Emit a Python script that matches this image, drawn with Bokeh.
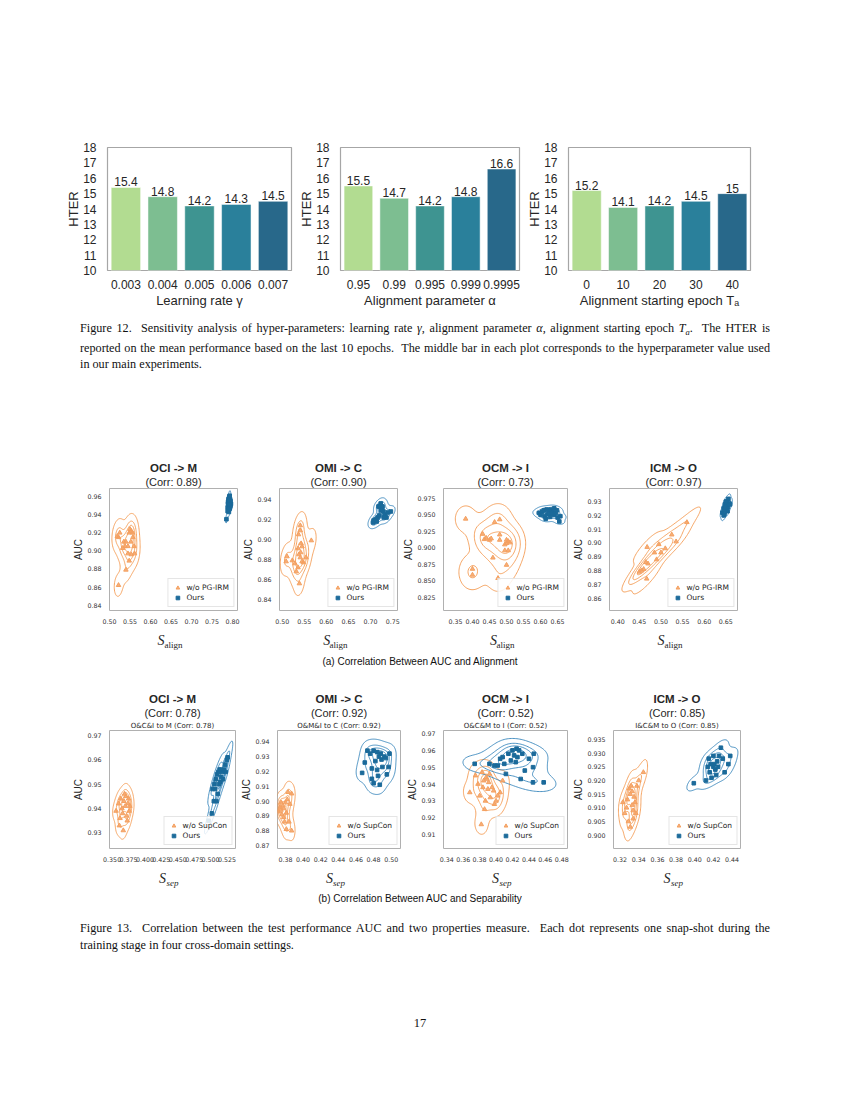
import numpy as np
from bokeh.plotting import figure
from bokeh.models import (FactorRange, Range1d, Title, Div, Spacer, LinearAxis,
                          ColumnDataSource, FixedTicker, PrintfTickFormatter, CustomJSTickFormatter)
from bokeh.layouts import row, column
from bokeh.embed import file_html
from bokeh.resources import INLINE
from bokeh.core.properties import value

SANS = "Liberation Sans"
DJ = "DejaVu Sans"
SERIF = "Liberation Serif"
TXT = "#262626"

# ---------------- Figure 12 data ----------------
hter_ticks = [10, 11, 12, 13, 14, 15, 16, 17, 18]
lr_labels = ["0.003", "0.004", "0.005", "0.006", "0.007"]
lr_hter = [15.4, 14.8, 14.2, 14.3, 14.5]
lr_text = ["15.4", "14.8", "14.2", "14.3", "14.5"]
alpha_labels = ["0.95", "0.99", "0.995", "0.999", "0.9995"]
alpha_hter = [15.5, 14.7, 14.2, 14.8, 16.6]
alpha_text = ["15.5", "14.7", "14.2", "14.8", "16.6"]
ta_labels = ["0", "10", "20", "30", "40"]
ta_hter = [15.2, 14.1, 14.2, 14.5, 15.0]
ta_text = ["15.2", "14.1", "14.2", "14.5", "15"]
bar_colors = ["#b2dc91", "#7dbe91", "#3e9491", "#2a809b", "#28688a"]

# ---------------- Figure 13 (a) data: S_align vs AUC ----------------
a1_o_x = [0.525, 0.519, 0.535, 0.538, 0.540, 0.545, 0.548, 0.550, 0.553, 0.556, 0.557, 0.552, 0.560, 0.561, 0.553, 0.545, 0.548, 0.540, 0.522, 0.522, 0.532]
a1_o_y = [0.920, 0.916, 0.910, 0.905, 0.910, 0.905, 0.920, 0.924, 0.922, 0.920, 0.915, 0.910, 0.905, 0.897, 0.896, 0.897, 0.889, 0.879, 0.915, 0.862, 0.903]
a1_b_x = [0.788, 0.789, 0.790, 0.791, 0.792, 0.793, 0.794, 0.795, 0.796, 0.790, 0.791, 0.792, 0.793, 0.794, 0.789, 0.790, 0.792, 0.795, 0.791, 0.793, 0.788, 0.794, 0.790, 0.792, 0.785]
a1_b_y = [0.948, 0.952, 0.955, 0.958, 0.960, 0.956, 0.953, 0.950, 0.952, 0.945, 0.943, 0.950, 0.947, 0.957, 0.954, 0.949, 0.953, 0.955, 0.951, 0.961, 0.944, 0.948, 0.957, 0.946, 0.935]

a2_o_x = [0.511, 0.509, 0.523, 0.529, 0.532, 0.536, 0.537, 0.541, 0.543, 0.542, 0.541, 0.545, 0.548, 0.554, 0.536, 0.539, 0.566, 0.541, 0.538, 0.545]
a2_o_y = [0.883, 0.878, 0.879, 0.876, 0.868, 0.891, 0.905, 0.914, 0.896, 0.887, 0.882, 0.878, 0.877, 0.882, 0.872, 0.856, 0.899, 0.909, 0.885, 0.893]
a2_b_x = [0.706, 0.711, 0.716, 0.720, 0.721, 0.723, 0.725, 0.729, 0.732, 0.736, 0.746, 0.714, 0.727, 0.724, 0.730, 0.718, 0.739, 0.707]
a2_b_y = [0.917, 0.920, 0.922, 0.924, 0.933, 0.936, 0.931, 0.928, 0.925, 0.922, 0.928, 0.918, 0.933, 0.929, 0.922, 0.933, 0.927, 0.919]

a3_o_x = [0.380, 0.400, 0.400, 0.430, 0.435, 0.440, 0.450, 0.455, 0.465, 0.460, 0.475, 0.480, 0.480, 0.480, 0.495, 0.500, 0.500, 0.505, 0.505, 0.510, 0.500, 0.495]
a3_o_y = [0.944, 0.868, 0.859, 0.921, 0.913, 0.915, 0.912, 0.914, 0.939, 0.885, 0.854, 0.943, 0.920, 0.912, 0.905, 0.912, 0.907, 0.896, 0.910, 0.908, 0.874, 0.896]
a3_b_x = [0.595, 0.600, 0.605, 0.610, 0.612, 0.615, 0.620, 0.625, 0.630, 0.635, 0.640, 0.640, 0.645, 0.650, 0.655, 0.658, 0.618, 0.628, 0.632, 0.648]
a3_b_y = [0.953, 0.950, 0.955, 0.957, 0.948, 0.944, 0.951, 0.953, 0.958, 0.955, 0.950, 0.960, 0.953, 0.946, 0.940, 0.948, 0.958, 0.947, 0.952, 0.957]

a4_o_x = [0.450, 0.455, 0.460, 0.465, 0.467, 0.468, 0.485, 0.490, 0.495, 0.510, 0.525, 0.535, 0.560, 0.470, 0.500]
a4_o_y = [0.879, 0.880, 0.881, 0.886, 0.874, 0.897, 0.893, 0.888, 0.899, 0.896, 0.906, 0.901, 0.915, 0.885, 0.893]
a4_b_x = [0.642, 0.645, 0.647, 0.648, 0.650, 0.652, 0.653, 0.655, 0.656, 0.658, 0.645, 0.650, 0.654, 0.660, 0.648]
a4_b_y = [0.922, 0.925, 0.921, 0.928, 0.924, 0.927, 0.930, 0.926, 0.932, 0.929, 0.920, 0.930, 0.923, 0.928, 0.926]

# ---------------- Figure 13 (b) data: S_sep vs AUC ----------------
b1_o_x = [0.356, 0.360, 0.362, 0.363, 0.365, 0.366, 0.367, 0.368, 0.370, 0.371, 0.372, 0.374, 0.375, 0.376, 0.377, 0.361, 0.369, 0.373]
b1_o_y = [0.939, 0.942, 0.936, 0.944, 0.940, 0.938, 0.931, 0.943, 0.941, 0.945, 0.937, 0.942, 0.944, 0.939, 0.941, 0.933, 0.946, 0.935]
b1_b_x = [0.497, 0.502, 0.505, 0.507, 0.503, 0.506, 0.508, 0.510, 0.512, 0.513, 0.515, 0.516, 0.518, 0.520, 0.522, 0.525, 0.526, 0.511, 0.509, 0.519, 0.514, 0.523]
b1_b_y = [0.935, 0.938, 0.943, 0.948, 0.948, 0.950, 0.952, 0.954, 0.955, 0.950, 0.951, 0.953, 0.955, 0.956, 0.958, 0.960, 0.961, 0.946, 0.943, 0.952, 0.956, 0.955]

b2_o_x = [0.372, 0.374, 0.375, 0.376, 0.377, 0.378, 0.378, 0.380, 0.381, 0.382, 0.383, 0.384, 0.385, 0.387, 0.381, 0.387, 0.375, 0.379]
b2_o_y = [0.893, 0.896, 0.894, 0.891, 0.897, 0.895, 0.889, 0.899, 0.892, 0.901, 0.906, 0.886, 0.898, 0.905, 0.881, 0.880, 0.899, 0.886]
b2_b_x = [0.467, 0.470, 0.473, 0.476, 0.478, 0.478, 0.480, 0.480, 0.482, 0.484, 0.485, 0.486, 0.488, 0.489, 0.490, 0.492, 0.494, 0.495, 0.497, 0.498, 0.487, 0.484]
b2_b_y = [0.919, 0.926, 0.934, 0.932, 0.922, 0.915, 0.912, 0.934, 0.927, 0.921, 0.917, 0.930, 0.932, 0.928, 0.923, 0.930, 0.929, 0.918, 0.923, 0.932, 0.911, 0.933]

b3_o_x = [0.368, 0.375, 0.378, 0.380, 0.382, 0.384, 0.385, 0.386, 0.387, 0.388, 0.390, 0.391, 0.392, 0.393, 0.395, 0.397, 0.398, 0.400, 0.402, 0.405, 0.408, 0.383, 0.389]
b3_o_y = [0.935, 0.945, 0.940, 0.933, 0.916, 0.938, 0.942, 0.925, 0.930, 0.944, 0.937, 0.941, 0.946, 0.932, 0.938, 0.936, 0.928, 0.930, 0.933, 0.935, 0.942, 0.947, 0.943]
b3_b_x = [0.374, 0.392, 0.398, 0.402, 0.405, 0.408, 0.410, 0.412, 0.415, 0.420, 0.422, 0.425, 0.428, 0.432, 0.435, 0.418, 0.424, 0.430, 0.440, 0.445, 0.445, 0.446, 0.458, 0.426]
b3_b_y = [0.952, 0.952, 0.951, 0.951, 0.955, 0.956, 0.952, 0.946, 0.958, 0.960, 0.957, 0.961, 0.960, 0.958, 0.948, 0.954, 0.953, 0.943, 0.955, 0.950, 0.941, 0.958, 0.941, 0.956]

b4_o_x = [0.323, 0.325, 0.327, 0.328, 0.329, 0.330, 0.331, 0.332, 0.333, 0.334, 0.334, 0.335, 0.336, 0.338, 0.340, 0.345, 0.331, 0.333, 0.337]
b4_o_y = [0.912, 0.908, 0.910, 0.913, 0.905, 0.917, 0.915, 0.918, 0.911, 0.909, 0.906, 0.914, 0.912, 0.918, 0.920, 0.923, 0.903, 0.916, 0.908]
b4_b_x = [0.399, 0.412, 0.414, 0.415, 0.416, 0.418, 0.420, 0.421, 0.422, 0.423, 0.424, 0.425, 0.426, 0.428, 0.430, 0.432, 0.436, 0.438, 0.420, 0.417]
b4_b_y = [0.919, 0.920, 0.925, 0.928, 0.923, 0.921, 0.925, 0.926, 0.924, 0.922, 0.927, 0.925, 0.929, 0.932, 0.928, 0.923, 0.926, 0.929, 0.929, 0.926]

# axis limits and ticks
a1_xr, a1_yr = (0.500, 0.812), (0.834, 0.969)
a1_xt, a1_yt = [0.50, 0.55, 0.60, 0.65, 0.70, 0.75, 0.80], [0.84, 0.86, 0.88, 0.90, 0.92, 0.94, 0.96]
a2_xr, a2_yr = (0.494, 0.761), (0.829, 0.951)
a2_xt, a2_yt = [0.50, 0.55, 0.60, 0.65, 0.70, 0.75], [0.84, 0.86, 0.88, 0.90, 0.92, 0.94]
a3_xr, a3_yr = (0.315, 0.679), (0.805, 0.990)
a3_xt, a3_yt = [0.35, 0.40, 0.45, 0.50, 0.55, 0.60, 0.65], [0.825, 0.850, 0.875, 0.900, 0.925, 0.950, 0.975]
a4_xr, a4_yr = (0.381, 0.677), (0.851, 0.9395)
a4_xt, a4_yt = [0.40, 0.45, 0.50, 0.55, 0.60, 0.65], [0.86, 0.87, 0.88, 0.89, 0.90, 0.91, 0.92, 0.93]
b1_xr, b1_yr = (0.346, 0.538), (0.9236, 0.972)
b1_xt, b1_yt = [0.350, 0.375, 0.400, 0.425, 0.450, 0.475, 0.500, 0.525], [0.93, 0.94, 0.95, 0.96, 0.97]
b2_xr, b2_yr = (0.371, 0.5105), (0.868, 0.9476)
b2_xt, b2_yt = [0.38, 0.40, 0.42, 0.44, 0.46, 0.48, 0.50], [0.87, 0.88, 0.89, 0.90, 0.91, 0.92, 0.93, 0.94]
b3_xr, b3_yr = (0.336, 0.487), (0.9017, 0.9718)
b3_xt, b3_yt = [0.34, 0.36, 0.38, 0.40, 0.42, 0.44, 0.46, 0.48], [0.91, 0.92, 0.93, 0.94, 0.95, 0.96, 0.97]
b4_xr, b4_yr = (0.313, 0.449), (0.8951, 0.9383)
b4_xt, b4_yt = [0.32, 0.34, 0.36, 0.38, 0.40, 0.42, 0.44], [0.900, 0.905, 0.910, 0.915, 0.920, 0.925, 0.930, 0.935]

titles_a = [("OCI -> M", "(Corr: 0.89)"), ("OMI -> C", "(Corr: 0.90)"),
            ("OCM -> I", "(Corr: 0.73)"), ("ICM -> O", "(Corr: 0.97)")]
titles_b = [("OCI -> M", "(Corr: 0.78)", "O&C&I to M (Corr: 0.78)"),
            ("OMI -> C", "(Corr: 0.92)", "O&M&I to C (Corr: 0.92)"),
            ("OCM -> I", "(Corr: 0.52)", "O&C&M to I (Corr: 0.52)"),
            ("ICM -> O", "(Corr: 0.85)", "I&C&M to O (Corr: 0.85)")]

cap12_lines = [
    "Figure 12.&nbsp; Sensitivity analysis of hyper-parameters: learning rate <i>&gamma;</i>, alignment parameter <i>&alpha;</i>, alignment starting epoch <i>T<sub style='font-size:70%'>a</sub></i>.&nbsp; The HTER is",
    "reported on the mean performance based on the last 10 epochs.&nbsp; The middle bar in each plot corresponds to the hyperparameter value used",
    "in our main experiments.",
]
cap13_lines = [
    "Figure 13.&nbsp; Correlation between the test performance AUC and two properties measure.&nbsp; Each dot represents one snap-shot during the",
    "training stage in four cross-domain settings.",
]
cap_a = "(a) Correlation Between AUC and Alignment"
cap_b = "(b) Correlation Between AUC and Separability"

OR_LINE, OR_PT = "#f28e3c", "#f4a060"
BL_LINE, BL_PT = "#1f77b4", "#1b6a9a"


def bar_fig(cats, vals, texts, xlabel, width, bl, br):
    p = figure(x_range=FactorRange(factors=cats), y_range=Range1d(10, 18), width=width, height=180,
               min_border_left=bl, min_border_right=br, min_border_top=17, min_border_bottom=32,
               output_backend="svg", toolbar_location=None, title=None)
    src = ColumnDataSource(dict(x=cats, top=vals, label=texts, color=bar_colors))
    p.vbar(x="x", top="top", bottom=10, width=0.8, fill_color="color", line_color="white",
           line_width=0.5, source=src)
    p.text(x="x", y="top", text="label", source=src, text_align="center", text_baseline="bottom",
           y_offset=-1, text_font=value(SANS), text_font_size="12px", text_color=TXT)
    p.yaxis.ticker = FixedTicker(ticks=hter_ticks)
    p.yaxis.axis_label = "HTER"
    p.xaxis.axis_label = xlabel
    for ax in (p.xaxis[0], p.yaxis[0]):
        ax.axis_line_color = None
        ax.major_tick_line_color = None
        ax.minor_tick_line_color = None
        ax.major_label_text_font = SANS
        ax.major_label_text_font_size = "12px"
        ax.major_label_text_color = TXT
        ax.axis_label_text_font = SANS
        ax.axis_label_text_font_size = "13px"
        ax.axis_label_text_font_style = "normal"
        ax.axis_label_text_color = TXT
    p.xaxis.major_label_standoff = 3
    p.xaxis.axis_label_standoff = 1
    p.yaxis.major_label_standoff = 5
    p.yaxis.axis_label_standoff = -1
    p.grid.visible = False
    p.outline_line_color = "#a6a6a6"
    p.outline_line_width = 1.2
    p.margin = (0, 0, 0, 0)
    return p


def kde(xs, ys, n=90, cut=3, nlev=5, thresh=0.05):
    data = np.vstack([np.asarray(xs, float), np.asarray(ys, float)])
    N = data.shape[1]
    cov = np.cov(data) * N ** (-1.0 / 3.0)
    inv = np.linalg.inv(cov)
    sx, sy = np.sqrt(np.diag(cov))
    gx = np.linspace(data[0].min() - cut * sx, data[0].max() + cut * sx, n)
    gy = np.linspace(data[1].min() - cut * sy, data[1].max() + cut * sy, n)
    X, Y = np.meshgrid(gx, gy)
    pts = np.vstack([X.ravel(), Y.ravel()])
    d = pts[:, :, None] - data[:, None, :]
    q = np.einsum('ij,jmn,imn->mn', inv, d, d)
    z = np.exp(-0.5 * q).sum(axis=1).reshape(X.shape)
    z /= z.sum()
    iso = np.linspace(thresh, 1, nlev)
    sv = np.sort(z.ravel())[::-1]
    cum = np.cumsum(sv) / sv.sum()
    idx = np.searchsorted(cum, 1 - iso)
    lv = np.unique(np.take(sv, idx, mode="clip"))
    lv = lv[lv < z.max()]
    return gx, gy, z, [float(v) for v in lv]


def scat_fig(ox, oy, bx, by, xr, yr, xt, yt, xf, yf, titles, olabel, sub, sub_italic,
             width, bl, br, height, bt, bb):
    p = figure(width=width, height=height, x_range=Range1d(*xr), y_range=Range1d(*yr),
               min_border_left=bl, min_border_right=br, min_border_top=bt, min_border_bottom=bb,
               output_backend="svg", toolbar_location=None, title=None)
    for xx, yy, col in ((ox, oy, OR_LINE), (bx, by, BL_LINE)):
        gx, gy, z, lv = kde(xx, yy)
        p.contour(x=gx, y=gy, z=z, levels=lv, line_color=col, line_width=0.8, fill_color=None)
    p.scatter(ox, oy, marker="triangle", size=4.5, fill_color=OR_PT, line_color=OR_PT,
              fill_alpha=0.85, legend_label=olabel)
    p.scatter(bx, by, marker="square", size=3.6, fill_color=BL_PT, line_color=BL_PT,
              legend_label="Ours")
    lg = p.legend[0]
    lg.location = "bottom_right"
    lg.label_text_font = DJ
    lg.label_text_font_size = "7.5px"
    lg.label_text_color = TXT
    lg.glyph_width = 10
    lg.glyph_height = 9
    lg.label_height = 9
    lg.label_standoff = 4
    lg.spacing = 1
    lg.padding = 4
    lg.margin = 3
    lg.border_line_color = "#cccccc"
    lg.background_fill_alpha = 0.85
    for (txt, size, style, font, standoff) in titles:
        p.add_layout(Title(text=txt, align="center", text_font_size=size, text_font_style=style,
                           text_font=font, text_color=TXT, standoff=standoff), "above")
    p.xaxis.ticker = FixedTicker(ticks=xt)
    p.yaxis.ticker = FixedTicker(ticks=yt)
    p.xaxis.formatter = PrintfTickFormatter(format=xf)
    p.yaxis.formatter = PrintfTickFormatter(format=yf)
    p.yaxis.axis_label = "AUC"
    for ax in (p.xaxis[0], p.yaxis[0]):
        ax.axis_line_color = None
        ax.major_tick_line_color = None
        ax.minor_tick_line_color = None
        ax.major_label_text_font = DJ
        ax.major_label_text_font_size = "6.3px"
        ax.major_label_text_color = "#333333"
        ax.major_label_standoff = 2
        ax.axis_label_text_font = SANS
        ax.axis_label_text_font_size = "10px"
        ax.axis_label_text_font_style = "normal"
        ax.axis_label_text_color = TXT
    p.yaxis.axis_label_standoff = 0
    p.grid.visible = False
    p.outline_line_color = "#b0b0b0"
    p.outline_line_width = 1
    # x-axis label: italic "S" as a single tick label of an extra axis, subscript as its axis label
    fw = width - bl - br
    dxp = (xr[1] - xr[0]) / fw
    xc = (xr[0] + xr[1]) / 2
    shift = 12.5 if sub == "align" else 10
    sax = LinearAxis(ticker=FixedTicker(ticks=[xc - shift * dxp]),
                     formatter=CustomJSTickFormatter(code="return 'S'"),
                     axis_label=sub)
    sax.axis_line_color = None
    sax.major_tick_line_color = None
    sax.minor_tick_line_color = None
    sax.major_label_text_font = SERIF
    sax.major_label_text_font_style = "italic"
    sax.major_label_text_font_size = "14px"
    sax.major_label_text_color = TXT
    sax.major_label_standoff = 0
    sax.axis_label_text_font = SERIF
    sax.axis_label_text_font_style = "italic" if sub_italic else "normal"
    sax.axis_label_text_font_size = "9px"
    sax.axis_label_text_color = TXT
    sax.axis_label_standoff = -11
    p.add_layout(sax, "below")
    p.margin = (0, 0, 0, 0)
    return p


def a_titles(t):
    return [(t[1], "11px", "normal", SANS, 1), (t[0], "11.5px", "bold", SANS, 0)]


def b_titles(t):
    return [(t[2], "7px", "normal", DJ, 1), (t[1], "11px", "normal", SANS, 1), (t[0], "11.5px", "bold", SANS, 0)]


# bar row
bar1 = bar_fig(lr_labels, lr_hter, lr_text, "Learning rate \u03b3", 236, 47, 5)
bar2 = bar_fig(alpha_labels, alpha_hter, alpha_text, "Alignment parameter \u03b1", 228, 39, 5)
bar3 = bar_fig(ta_labels, ta_hter, ta_text, "Alignment starting epoch T\u2090", 236, 41, 10)

HA, BTA, BBA = 207, 43, 32
pa1 = scat_fig(a1_o_x, a1_o_y, a1_b_x, a1_b_y, a1_xr, a1_yr, a1_xt, a1_yt, "%.2f", "%.2f",
               a_titles(titles_a[0]), "w/o PG-IRM", "align", False, 180, 49, 3, HA, BTA, BBA)
pa2 = scat_fig(a2_o_x, a2_o_y, a2_b_x, a2_b_y, a2_xr, a2_yr, a2_xt, a2_yt, "%.2f", "%.2f",
               a_titles(titles_a[1]), "w/o PG-IRM", "align", False, 160, 32, 3, HA, BTA, BBA)
pa3 = scat_fig(a3_o_x, a3_o_y, a3_b_x, a3_b_y, a3_xr, a3_yr, a3_xt, a3_yt, "%.2f", "%.3f",
               a_titles(titles_a[2]), "w/o PG-IRM", "align", False, 170, 38, 3, HA, BTA, BBA)
pa4 = scat_fig(a4_o_x, a4_o_y, a4_b_x, a4_b_y, a4_xr, a4_yr, a4_xt, a4_yt, "%.2f", "%.2f",
               a_titles(titles_a[3]), "w/o PG-IRM", "align", False, 180, 38, 13, HA, BTA, BBA)

HB, BTB, BBB = 214, 54, 28
pb1 = scat_fig(b1_o_x, b1_o_y, b1_b_x, b1_b_y, b1_xr, b1_yr, b1_xt, b1_yt, "%.3f", "%.2f",
               b_titles(titles_b[0]), "w/o SupCon", "sep", True, 178, 49, 3, HB, BTB, BBB)
pb2 = scat_fig(b2_o_x, b2_o_y, b2_b_x, b2_b_y, b2_xr, b2_yr, b2_xt, b2_yt, "%.2f", "%.2f",
               b_titles(titles_b[1]), "w/o SupCon", "sep", True, 165, 34, 3, HB, BTB, BBB)
pb3 = scat_fig(b3_o_x, b3_o_y, b3_b_x, b3_b_y, b3_xr, b3_yr, b3_xt, b3_yt, "%.2f", "%.2f",
               b_titles(titles_b[2]), "w/o SupCon", "sep", True, 167, 40, 3, HB, BTB, BBB)
pb4 = scat_fig(b4_o_x, b4_o_y, b4_b_x, b4_b_y, b4_xr, b4_yr, b4_xt, b4_yt, "%.2f", "%.3f",
               b_titles(titles_b[3]), "w/o SupCon", "sep", True, 180, 42, 10, HB, BTB, BBB)


def sp(w=1, h=1):
    return Spacer(width=w, height=h, margin=(0, 0, 0, 0))


def caption_div(lines, width, height, lh):
    parts = []
    for i, ln in enumerate(lines):
        if i < len(lines) - 1:
            parts.append('<div style="width:%dpx;text-align:justify;text-align-last:justify">%s</div>' % (width, ln))
        else:
            parts.append('<div style="width:%dpx;text-align:left">%s</div>' % (width, ln))
    return Div(text="".join(parts), width=width, height=height, margin=(0, 0, 0, 0),
               styles={"font-family": SERIF, "font-size": "12.2px", "line-height": "%dpx" % lh,
                       "color": "#111111", "width": "%dpx" % width})


def center_div(text, height, size, font):
    return Div(text=text, width=824, height=height, margin=(0, 0, 0, 0),
               styles={"font-family": font, "font-size": size, "line-height": "%dpx" % height,
                       "text-align": "center", "color": "#111111", "width": "824px"})


cap12 = caption_div(cap12_lines, 690, 50, 16)
cap13 = caption_div(cap13_lines, 690, 40, 17)

layout = column(
    sp(10, 130),
    row(sp(60, 10), bar1, bar2, bar3, spacing=0),
    sp(10, 10),
    row(sp(80, 10), cap12, spacing=0),
    sp(10, 75),
    row(sp(60, 10), pa1, pa2, pa3, pa4, spacing=0),
    row(sp(8, 10), center_div(cap_a, 20, "10px", SANS), spacing=0),
    sp(10, 4),
    row(sp(60, 10), pb1, pb2, pb3, pb4, spacing=0),
    row(sp(8, 10), center_div(cap_b, 18, "10px", SANS), spacing=0),
    sp(10, 12),
    row(sp(80, 10), cap13, spacing=0),
    sp(10, 53),
    row(sp(8, 10), center_div("17", 20, "12.5px", SERIF), spacing=0),
    spacing=0,
)

open("out.html", "w").write(file_html(layout, INLINE))
